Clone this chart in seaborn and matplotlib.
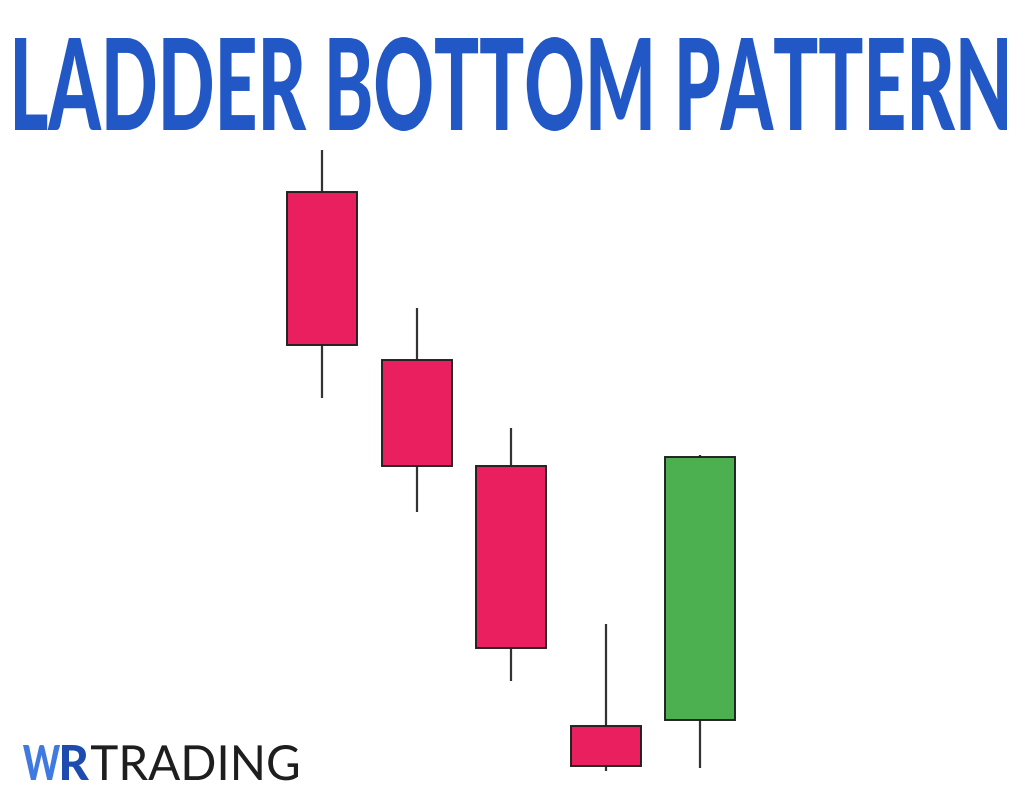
import matplotlib
matplotlib.use("Agg")
import matplotlib.pyplot as plt
from matplotlib.font_manager import FontProperties
from matplotlib.textpath import TextPath
from matplotlib.patheffects import AbstractPathEffect
from matplotlib.transforms import Affine2D
import seaborn as sns
import pandas as pd

# ---- data (price units) ----
candles = ["C1", "C2", "C3", "C4", "C5"]
opens = [60.8, 44.0, 33.4, 7.4, 8.0]
closes = [45.5, 33.4, 15.2, 3.4, 34.3]
highs = [65.0, 49.2, 37.2, 17.6, 34.5]
lows = [40.2, 28.8, 11.9, 2.9, 3.2]
title_text = "LADDER BOTTOM PATTERN"
logo_a = "WR"
logo_b = "TRADING"

sns.set_theme(style="white")

W, H = 1024, 800
fig = plt.figure(figsize=(W / 100, H / 100), dpi=100)
fig.patch.set_facecolor("white")
ax = fig.add_axes([0, 0, 1, 1])
ax.set_facecolor("white")

spacing = 94.5
x0pix = 322
ax.set_xlim(-x0pix / spacing, (W - x0pix) / spacing)
ax.set_ylim(0, 80)

df = pd.DataFrame({
    "idx": range(len(candles)),
    "open": opens, "close": closes, "high": highs, "low": lows,
})
df["bottom"] = df[["open", "close"]].min(axis=1)
df["height"] = (df["open"] - df["close"]).abs()
df["color"] = ["#4CAF50" if c > o else "#EA1F60" for o, c in zip(opens, closes)]

ax.vlines(df["idx"], df["low"], df["high"], color="#333333", lw=1.6, zorder=1)
ax.bar(df["idx"], df["height"], bottom=df["bottom"], width=70 / spacing,
       color=df["color"], edgecolor="#222222", linewidth=1.4, zorder=2)
sns.despine(ax=ax, left=True, bottom=True)
ax.set_xticks([])
ax.set_yticks([])


class Stretch(AbstractPathEffect):
    def __init__(self, sx, sy, ox, oy):
        super().__init__()
        self.sx, self.sy, self.ox, self.oy = sx, sy, ox, oy

    def draw_path(self, renderer, gc, tpath, affine, rgbFace=None):
        t = affine + Affine2D().translate(-self.ox, -self.oy).scale(self.sx, self.sy).translate(self.ox, self.oy)
        renderer.draw_path(gc, tpath, t, rgbFace)


def fit_box(text, x0, x1, top, base, family, weight, color):
    fp = FontProperties(family=family, weight=weight)
    tp = TextPath((0, 0), text, size=100, prop=fp)
    ext = tp.get_extents()
    k = 100 / 72  # points -> pixels at dpi 100
    size = 100 * (x1 - x0) / (ext.width * k)
    scale = size / 100
    cap_px = ext.y1 * k * scale
    sy = (base - top) / cap_px
    xmin = ext.x0 * k * scale
    ox = x0 - xmin
    oy = H - base
    fig.text(ox / W, oy / H, text, ha="left", va="baseline", fontsize=size,
             family=family, fontweight=weight, color=color,
             path_effects=[Stretch(1.0, sy, ox, oy)])


fit_box(title_text, 15, 1007, 37, 130, "Lato", "black", "#2158C6")
fit_box(logo_a[0], 23, 60, 745, 780, "Lato", "black", "#4079E0")
fit_box(logo_a[1], 62, 89, 745, 780, "Lato", "black", "#1D4BB0")
fit_box(logo_b, 91, 298, 745, 780, "Lato", "normal", "#1E1E1E")

fig.savefig("out.png", dpi=100, facecolor="white")
